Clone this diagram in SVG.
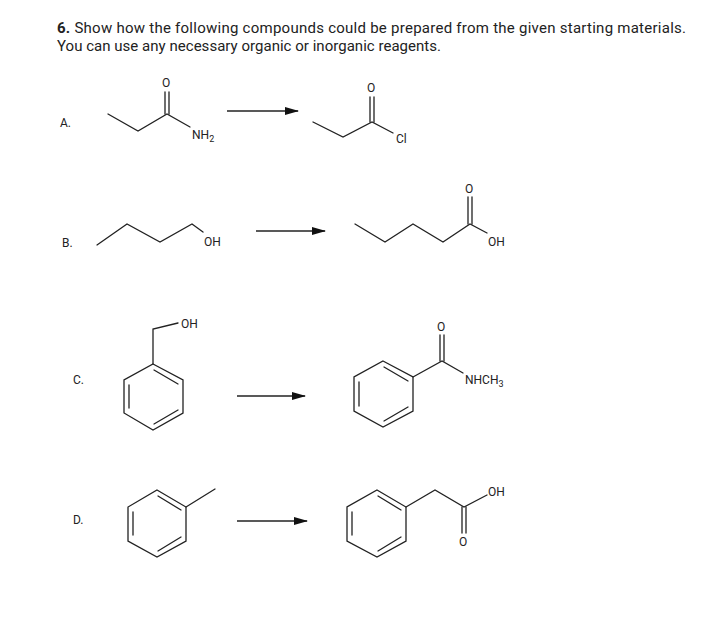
<svg xmlns="http://www.w3.org/2000/svg" width="720" height="637" viewBox="0 0 720 637">
<style>
.b{stroke:#222;stroke-width:1.3;fill:none;stroke-linecap:round}
.a{stroke:#222;stroke-width:1.3}
text{font-family:Roboto,"Liberation Sans",sans-serif;fill:#222}
.t{font-size:15px}
.l{font-size:12px}
.s{font-size:9px}
</style>
<defs><marker id="ah" markerWidth="14" markerHeight="8" refX="13" refY="4" orient="auto" markerUnits="userSpaceOnUse"><path d="M0,0 L14,4 L0,8 Z" fill="#111"/></marker></defs>
<rect width="720" height="637" fill="#fff"/>
<g id="title">
<text class="t" x="57" y="33" textLength="629" lengthAdjust="spacing"><tspan font-weight="bold">6.</tspan> Show how the following compounds could be prepared from the given starting materials.</text>
<text class="t" x="57" y="51" textLength="384" lengthAdjust="spacing">You can use any necessary organic or inorganic reagents.</text>
</g>
<g id="labels">
<text class="l" x="60" y="127">A.</text>
<text class="l" x="62" y="247">B.</text>
<text class="l" x="73" y="384">C.</text>
<text class="l" x="73" y="524">D.</text>
</g>
<g id="A-start">
<path class="b" d="M108,114 L138,131 L167,114 L190,127"/>
<path class="b" d="M165,114 L165,92 M169,114 L169,92"/>
<text class="l" x="162" y="87">O</text>
<text class="l" x="192" y="139">NH<tspan class="s" dy="3">2</tspan></text>
</g>
<g id="A-product">
<path class="b" d="M313,122 L343,137 L372,122 L393,133"/>
<path class="b" d="M370,122 L370,97 M374,122 L374,97"/>
<text class="l" x="367" y="92">O</text>
<text class="l" x="396" y="143">Cl</text>
</g>
<g id="B-start">
<path class="b" d="M97,245 L127,224 L160,242 L192,224 L203,232"/>
<text class="l" x="204" y="246">OH</text>
</g>
<g id="B-product">
<path class="b" d="M355,224 L385,242 L413,224 L443,242 L470,224 L487,233"/>
<path class="b" d="M468,224 L468,197 M472,224 L472,197"/>
<text class="l" x="465" y="193">O</text>
<text class="l" x="488" y="246">OH</text>
</g>
<g id="C-start">
<path class="b" d="M153,364 L183,380 L183,413 L153,430 L124,413 L124,380 Z"/>
<path class="b" d="M129,385 L129,408 M154,370 L178,384 M154,424 L178,410"/>
<path class="b" d="M153,364 L153,329 L178,323"/>
<text class="l" x="181" y="328">OH</text>
</g>
<g id="C-product">
<path class="b" d="M383,361 L413,377 L413,411 L383,427 L354,411 L354,377 Z"/>
<path class="b" d="M359,382 L359,406 M384,367 L408,381 M384,421 L408,407"/>
<path class="b" d="M413,377 L442,361 L463,373"/>
<path class="b" d="M440,361 L440,335 M444,361 L444,335"/>
<text class="l" x="437" y="331">O</text>
<text class="l" x="465" y="384">NHCH<tspan class="s" dy="3">3</tspan></text>
</g>
<g id="D-start">
<path class="b" d="M157,490 L186,507 L186,541 L157,557 L128,541 L128,507 Z"/>
<path class="b" d="M133,512 L133,535 M158,496 L181,510 M158,551 L181,537"/>
<path class="b" d="M186,507 L215,489"/>
</g>
<g id="D-product">
<path class="b" d="M377,490 L406,507 L406,541 L377,557 L347,541 L347,507 Z"/>
<path class="b" d="M352,512 L352,535 M378,496 L401,510 M378,551 L401,537"/>
<path class="b" d="M406,507 L435,490 L464,507 L487,495"/>
<path class="b" d="M462,507 L462,533 M466,507 L466,533"/>
<text class="l" x="459" y="546">O</text>
<text class="l" x="488" y="496">OH</text>
</g>
<g id="connectors">
<line class="a" x1="227" y1="111" x2="298" y2="111" marker-end="url(#ah)"/>
<line class="a" x1="256" y1="231" x2="325" y2="231" marker-end="url(#ah)"/>
<line class="a" x1="237" y1="396" x2="305" y2="396" marker-end="url(#ah)"/>
<line class="a" x1="237" y1="521" x2="307" y2="521" marker-end="url(#ah)"/>
</g>
</svg>
